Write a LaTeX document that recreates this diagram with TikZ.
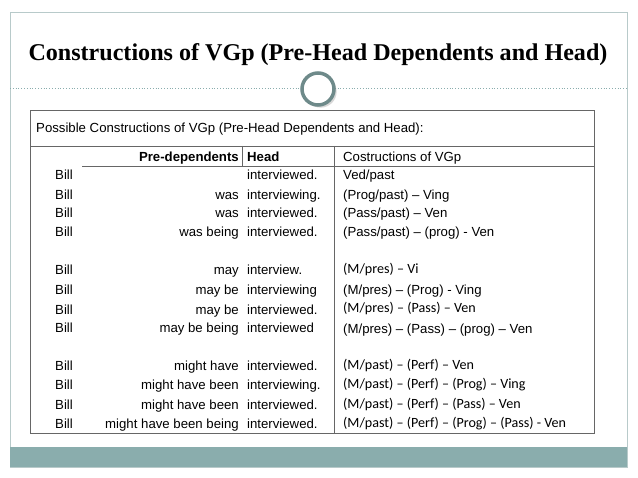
\documentclass[tikz,border=0pt]{standalone}
\usepackage{fontspec}
\setmainfont{Liberation Sans}
\newfontfamily\titlefont{Liberation Serif}
\newfontfamily\calfont{Carlito}
\usetikzlibrary{shadows}
\definecolor{teal1}{HTML}{8AADAD}
\definecolor{frame}{HTML}{B8CACA}
\begin{document}
\begin{tikzpicture}[x=1pt,y=-1pt,
  tx/.style={inner sep=0pt,font=\fontsize{13.2}{15}\selectfont},
  cx/.style={inner sep=0pt,font=\calfont\fontsize{14.1}{16}\selectfont},
  rule/.style={draw=black!60,line width=0.8pt}]
\useasboundingbox (0,0) rectangle (638,478);
\fill[white] (0,0) rectangle (638,478);
\draw[frame,line width=0.8pt] (10,12) rectangle (627,467);
\fill[teal1] (10,447) rectangle (627,467);
\node[inner sep=0pt] (title) at (318,55) {\resizebox{579pt}{!}{\titlefont\bfseries Constructions of VGp (Pre-Head Dependents and Head)}};
\draw[teal1,dotted,line width=0.8pt] (10,88) -- (627,88);
\node[circle,minimum size=32pt,draw=teal1!80!black,line width=3.5pt,fill=white,drop shadow={opacity=0.3}] (ring) at (318,89) {};
\draw[rule] (30,110) rectangle (594,433);
\draw[rule] (30,146) -- (594,146);
\draw[rule] (82,166) -- (594,166);
\draw[rule] (242,146) -- (242,166);
\draw[rule] (334,146) -- (334,433);
\node[tx,anchor=base west] (cap) at (36,133) {Possible Constructions of VGp (Pre-Head Dependents and Head):};
\node[tx,anchor=base east,font=\fontsize{13.2}{15}\selectfont\bfseries] (h1) at (239,161.5) {Pre-dependents};
\node[tx,anchor=base west,font=\fontsize{13.2}{15}\selectfont\bfseries] (h2) at (247,161.5) {Head};
\node[tx,anchor=base west] (h3) at (343,161.5) {Costructions of VGp};
\foreach \y/\p/\h in {175//interviewed., 195/was/interviewing., 213/was/interviewed., 232/was being/interviewed.,
  270/may/interview., 290/may be/interviewing, 310/may be/interviewed., 328/may be being/interviewed,
  366/might have/interviewed., 385/might have been/interviewing., 405/might have been/interviewed., 424/might have been being/interviewed.}{
  \node[tx,anchor=base west] at (55,\y+4.5) {Bill};
  \node[tx,anchor=base east] at (239,\y+4.5) {\p};
  \node[tx,anchor=base west] at (247,\y+4.5) {\h};
}
\node[tx,anchor=base west] (c1) at (343,179.5) {Ved/past};
\node[tx,anchor=base west] (c2) at (343,199.5) {(Prog/past) – Ving};
\node[tx,anchor=base west] (c3) at (343,217.5) {(Pass/past) – Ven};
\node[tx,anchor=base west] (c4) at (343,236.5) {(Pass/past) – (prog) - Ven};
\node[cx,anchor=base west] (c5) at (343,273.5) {(M/pres) – Vi};
\node[tx,anchor=base west] (c6) at (343,294.5) {(M/pres) – (Prog) - Ving};
\node[cx,anchor=base west] (c7) at (343,312.5) {(M/pres) – (Pass) – Ven};
\node[tx,anchor=base west] (c8) at (343,333.5) {(M/pres) – (Pass) – (prog) – Ven};
\node[cx,anchor=base west] (c9) at (343,369.5) {(M/past) – (Perf) – Ven};
\node[cx,anchor=base west] (c10) at (343,388.5) {(M/past) – (Perf) – (Prog) – Ving};
\node[cx,anchor=base west] (c11) at (343,408.5) {(M/past) – (Perf) – (Pass) – Ven};
\node[cx,anchor=base west] (c12) at (343,427.5) {(M/past) – (Perf) – (Prog) – (Pass) - Ven};
\end{tikzpicture}
\end{document}
